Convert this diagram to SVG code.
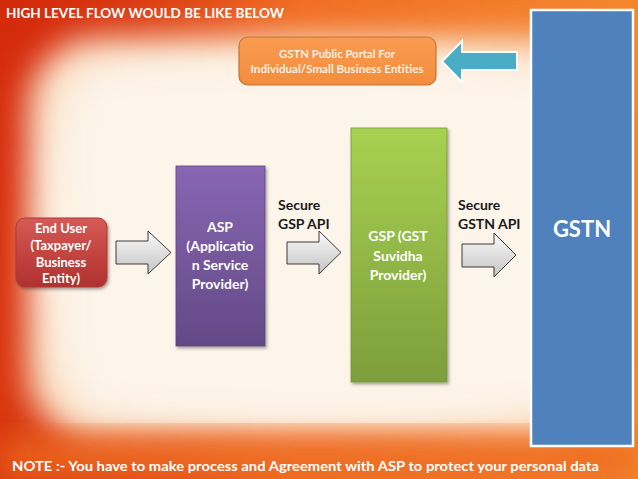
<svg xmlns="http://www.w3.org/2000/svg" width="638" height="479" viewBox="0 0 638 479">
<defs>
<style>
.t{font-family:Lato,"Open Sans","Liberation Sans",sans-serif;font-weight:bold}
.w{fill:#ffffff}
.k{fill:#1a1a1a}
.ga{fill:url(#gray);stroke:#3a3a3a;stroke-width:1}
</style>
<linearGradient id="bgTop" x1="0" y1="0" x2="1" y2="0">
<stop offset="0" stop-color="#d8320e"/><stop offset="0.4" stop-color="#f06a22"/><stop offset="1" stop-color="#f4862e"/>
</linearGradient>
<radialGradient id="redTL" cx="0" cy="0" r="1" gradientUnits="objectBoundingBox">
<stop offset="0" stop-color="#d42a0c"/><stop offset="1" stop-color="#d42a0c" stop-opacity="0"/>
</radialGradient>
<radialGradient id="redBL" cx="0" cy="1" r="1">
<stop offset="0" stop-color="#d8380e"/><stop offset="1" stop-color="#d8380e" stop-opacity="0"/>
</radialGradient>
<radialGradient id="cream" cx="0.5" cy="0.5" r="0.6">
<stop offset="0" stop-color="#fdf6ee"/><stop offset="0.75" stop-color="#fcefe0"/><stop offset="1" stop-color="#fbe2c8"/>
</radialGradient>
<filter id="blur" x="-20%" y="-20%" width="140%" height="140%"><feGaussianBlur stdDeviation="16"/></filter>
<filter id="sh" x="-20%" y="-20%" width="140%" height="140%"><feDropShadow dx="1.5" dy="2" stdDeviation="1.5" flood-color="#000" flood-opacity="0.35"/></filter>
<linearGradient id="gray" x1="0" y1="0" x2="0" y2="1">
<stop offset="0" stop-color="#fafafa"/><stop offset="1" stop-color="#c4c4c4"/>
</linearGradient>
<linearGradient id="red" x1="0" y1="0" x2="0" y2="1">
<stop offset="0" stop-color="#d65a56"/><stop offset="1" stop-color="#b0302e"/>
</linearGradient>
<linearGradient id="purple" x1="0" y1="0" x2="0" y2="1">
<stop offset="0" stop-color="#8866b3"/><stop offset="1" stop-color="#634985"/>
</linearGradient>
<linearGradient id="green" x1="0" y1="0" x2="0" y2="1">
<stop offset="0" stop-color="#a8d150"/><stop offset="1" stop-color="#7c9e3c"/>
</linearGradient>
<linearGradient id="orange" x1="0" y1="0" x2="0" y2="1">
<stop offset="0" stop-color="#f99b52"/><stop offset="1" stop-color="#f38d3c"/>
</linearGradient>
</defs>

<!-- background -->
<rect x="0" y="0" width="638" height="479" fill="url(#bgTop)"/>
<rect x="0" y="0" width="300" height="300" fill="url(#redTL)"/>
<rect x="0" y="280" width="300" height="199" fill="url(#redBL)"/>
<rect x="28" y="38" width="570" height="402" rx="70" fill="url(#cream)" filter="url(#blur)"/>
<rect x="70" y="70" width="500" height="340" rx="40" fill="#fdf4ea" filter="url(#blur)"/>
<path d="M0,440 Q320,425 638,440 L638,479 L0,479 Z" fill="#ee6a20" filter="url(#blur)" opacity="0.85"/>

<text class="t w" x="6" y="18" font-size="13" textLength="278" lengthAdjust="spacingAndGlyphs">HIGH LEVEL FLOW WOULD BE LIKE BELOW</text>
<text class="t w" x="12" y="471" font-size="14" textLength="587" lengthAdjust="spacingAndGlyphs">NOTE :- You have to make process and Agreement with ASP to protect your personal data</text>

<g id="gstn">
<rect x="531" y="10" width="102" height="436" fill="#4f81bd" stroke="#ffffff" stroke-width="2.5"/>
<text class="t w" x="582" y="237" font-size="22" text-anchor="middle">GSTN</text>
</g>

<g id="portal">
<rect x="239" y="37" width="197" height="48" rx="9" fill="url(#orange)" stroke="#c47534" stroke-width="1.2"/>
<text class="t" fill="#fdf0e4" x="337" y="58" font-size="11" text-anchor="middle" textLength="116" lengthAdjust="spacingAndGlyphs">GSTN Public Portal For</text>
<text class="t" fill="#fdf0e4" x="337" y="73" font-size="11" text-anchor="middle" textLength="173" lengthAdjust="spacingAndGlyphs">Individual/Small Business Entities</text>
</g>

<g id="enduser">
<rect x="16" y="218" width="91" height="69" rx="9" fill="url(#red)" stroke="#a83a37" stroke-width="1" filter="url(#sh)"/>
<text class="t w" x="61" y="232.5" font-size="13" text-anchor="middle">End User</text>
<text class="t w" x="61" y="249.5" font-size="13" text-anchor="middle">(Taxpayer/</text>
<text class="t w" x="61" y="266.5" font-size="13" text-anchor="middle">Business</text>
<text class="t w" x="61" y="283" font-size="13" text-anchor="middle">Entity)</text>
</g>

<g id="asp">
<rect x="176" y="166" width="89" height="180" fill="url(#purple)" stroke="#5c4480" stroke-width="0.8" filter="url(#sh)"/>
<text class="t w" x="220" y="232" font-size="14" text-anchor="middle">ASP</text>
<text class="t w" x="220" y="251" font-size="14" text-anchor="middle">(Applicatio</text>
<text class="t w" x="220" y="270" font-size="14" text-anchor="middle">n Service</text>
<text class="t w" x="220" y="289" font-size="14" text-anchor="middle">Provider)</text>
</g>

<g id="gsp">
<rect x="351" y="128" width="96" height="254" fill="url(#green)" stroke="#76963a" stroke-width="0.8" filter="url(#sh)"/>
<text class="t w" x="398" y="241" font-size="14" text-anchor="middle">GSP (GST</text>
<text class="t w" x="398" y="261" font-size="14" text-anchor="middle">Suvidha</text>
<text class="t w" x="398" y="280" font-size="14" text-anchor="middle">Provider)</text>
</g>

<g id="connectors">
<polygon class="ga" points="116,241 148,241 148,231 171,252.5 148,274 148,264 116,264"/>
<polygon class="ga" points="287,242 319,242 319,231 341,252.5 319,274 319,264 287,264"/>
<polygon class="ga" points="462,244 494,244 494,233 516,255 494,277 494,267 462,267"/>
<polygon points="517,52 462,52 462,41 442,61.5 462,82 462,70 517,70" fill="#4bacc6" stroke="#ffffff" stroke-width="2"/>
<text class="t k" x="278" y="210" font-size="14">Secure</text>
<text class="t k" x="278" y="229" font-size="14">GSP API</text>
<text class="t k" x="458" y="210" font-size="14">Secure</text>
<text class="t k" x="458" y="229" font-size="14">GSTN API</text>
</g>
</svg>
